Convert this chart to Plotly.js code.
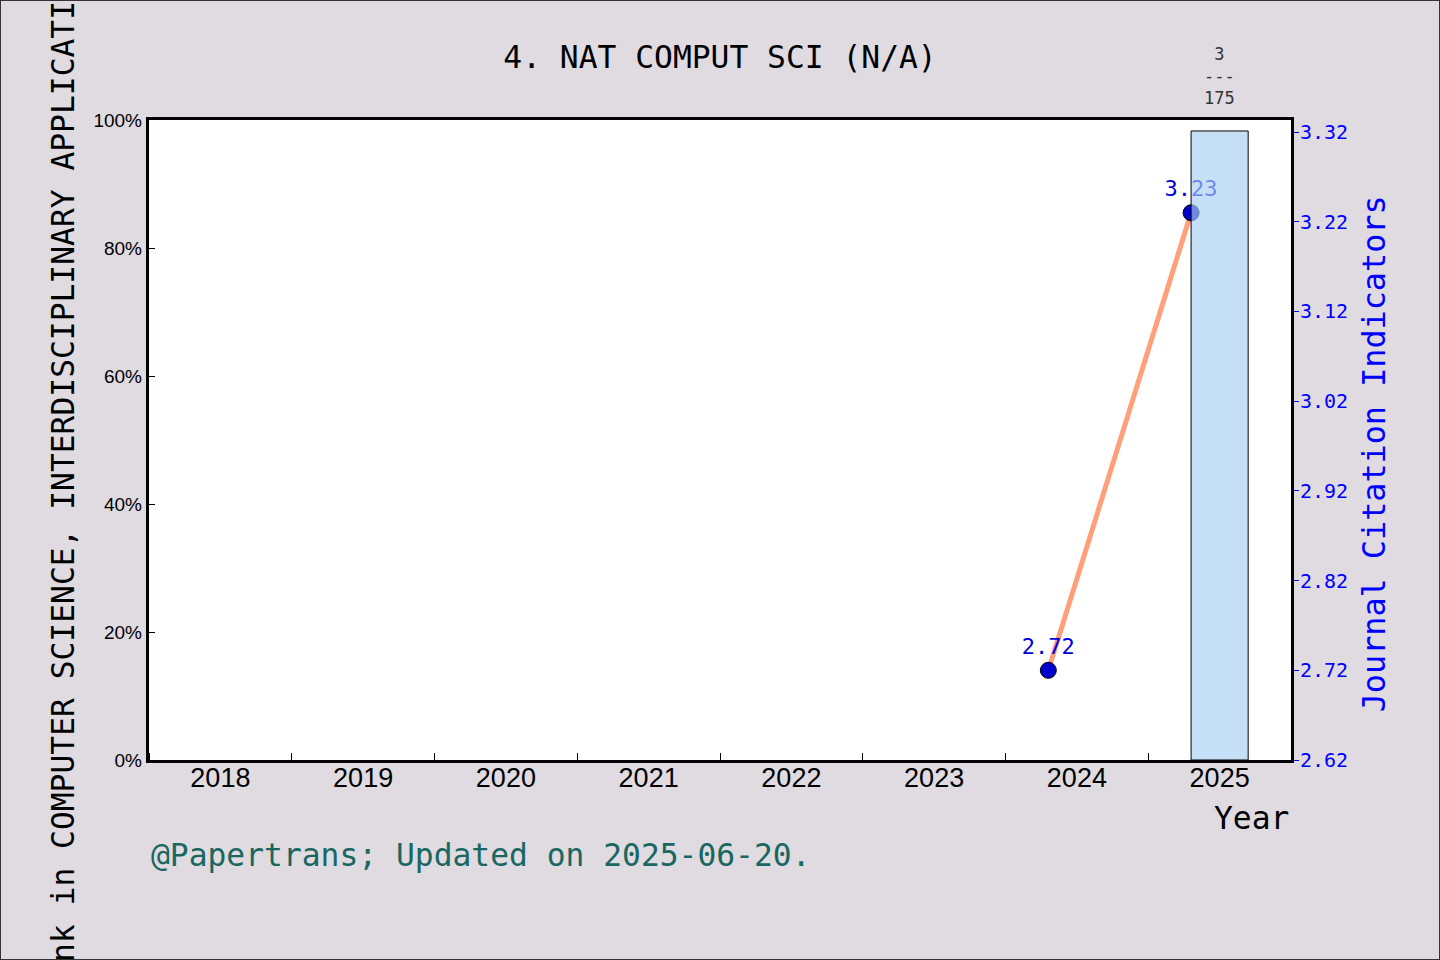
<!DOCTYPE html>
<html>
<head>
<meta charset="utf-8">
<script src="https://cdn.plot.ly/plotly-3.0.1.min.js"></script>
<style>
html,body{margin:0;padding:0;background:#dfdbe0;}
#chart{width:1438px;height:958px;border:1px solid #333;}
</style>
</head>
<body>
<div id="chart"></div>
<script>
// ---- data ----
const years = [2018, 2019, 2020, 2021, 2022, 2023, 2024, 2025];
const yearLabels = ['2018','2019','2020','2021','2022','2023','2024','2025'];
const jciYears = [2024, 2025];
const jciValues = [2.72, 3.23];
const rankYears = [2025];
const rankPos = [3];
const rankTotal = [175];
const jciTicks = [2.62, 2.72, 2.82, 2.92, 3.02, 3.12, 3.22, 3.32];
const pctTicks = [0, 0.2, 0.4, 0.6, 0.8, 1.0];
const titleText = '4. NAT COMPUT SCI (N/A)';
const leftTitle = 'Rank in COMPUTER SCIENCE, INTERDISCIPLINARY APPLICATIONS';
const rightTitle = 'Journal Citation Indicators';
const xTitle = 'Year';
const footer = '@Papertrans; Updated on 2025-06-20.';

// derived
const rankPct = rankPos.map((r, i) => 1 - r / rankTotal[i]);
const lineX = jciYears.map(y => y - 0.2);

const mono = 'DejaVu Sans Mono, monospace';
const sans = 'Liberation Sans, Arial, sans-serif';

const traces = [
  {
    type: 'scatter', mode: 'lines+markers+text',
    x: lineX, y: jciValues, yaxis: 'y',
    line: {color: '#ffa07a', width: 5},
    marker: {color: '#0000cc', size: 16, line: {color: '#000', width: 1}},
    text: jciValues.map(v => v.toFixed(2)),
    textposition: 'top center',
    textfont: {family: mono, size: 22, color: '#0000dd'},
    cliponaxis: false,
    hoverinfo: 'skip', showlegend: false
  },
  {
    type: 'bar', x: rankYears, y: rankPct, yaxis: 'y2', width: 0.4,
    marker: {color: 'rgba(167,208,242,0.66)', line: {color: '#000', width: 1}},
    hoverinfo: 'skip', showlegend: false
  }
];

const layout = {
  width: 1438, height: 958,
  paper_bgcolor: '#dfdbe0', plot_bgcolor: '#ffffff',
  margin: {l: 148, r: 148, t: 119, b: 199, pad: 0},
  showlegend: false,
  title: {text: titleText, font: {family: mono, size: 31.3, color: '#000'}, x: 0.5, xanchor: 'center', y: 0.941, yanchor: 'middle'},
  xaxis: {
    type: 'linear', range: [2017.5, 2025.5],
    tickmode: 'array', tickvals: years, ticktext: yearLabels,
    ticks: '', showgrid: false, zeroline: false,
    tickfont: {family: sans, size: 27, color: '#000'},
    ticklabelstandoff: -8,
    showline: true, mirror: true, linecolor: '#000', linewidth: 3,
    minor: {tickmode: 'linear', tick0: 2017.5, dtick: 1, ticks: 'inside', ticklen: 7, tickwidth: 1, tickcolor: '#000', showgrid: false}
  },
  yaxis: {
    side: 'right', range: [2.62, 3.3334],
    tickmode: 'array', tickvals: jciTicks, ticktext: jciTicks.map(v => v.toFixed(2)),
    ticks: 'outside', ticklen: 5, tickcolor: '#0000ff', tickwidth: 1,
    ticklabelstandoff: -3,
    tickfont: {family: mono, size: 20, color: '#0000ff'},
    showgrid: false, zeroline: false,
    showline: true, mirror: true, linecolor: '#000', linewidth: 3
  },
  yaxis2: {
    side: 'left', overlaying: 'y', range: [0, 1],
    tickmode: 'array', tickvals: pctTicks, tickformat: '.0%',
    ticks: 'inside', ticklen: 6, tickcolor: '#000', tickwidth: 1,
    ticklabelstandoff: 6,
    tickfont: {family: sans, size: 19, color: '#000'},
    showgrid: false, zeroline: false, showline: false
  },
  annotations: [
    {text: leftTitle, xref: 'paper', yref: 'paper', x: -0.0753, y: 0.449, textangle: -90,
     showarrow: false, xanchor: 'center', yanchor: 'middle', font: {family: mono, size: 31.3, color: '#000'}},
    {text: rightTitle, xref: 'paper', yref: 'paper', x: 1.072, y: 0.478, textangle: -90,
     showarrow: false, xanchor: 'center', yanchor: 'middle', font: {family: mono, size: 31.8, color: '#0000ff'}},
    {text: xTitle, xref: 'paper', yref: 'paper', x: 1.0, y: -0.09, xanchor: 'right', yanchor: 'middle',
     showarrow: false, font: {family: mono, size: 31.3, color: '#000'}},
    {text: footer, xref: 'paper', yref: 'paper', x: 0.0, y: -0.148, xanchor: 'left', yanchor: 'middle',
     showarrow: false, font: {family: mono, size: 31.3, color: '#1a6660'}},
    {text: rankPos[0] + '<br>---<br>' + rankTotal[0], xref: 'x', yref: 'paper', x: rankYears[0], y: 1.015,
     xanchor: 'center', yanchor: 'bottom', showarrow: false,
     font: {family: mono, size: 17, color: '#333'}}
  ]
};

Plotly.newPlot('chart', traces, layout, {displayModeBar: false, staticPlot: true});
</script>
</body>
</html>
